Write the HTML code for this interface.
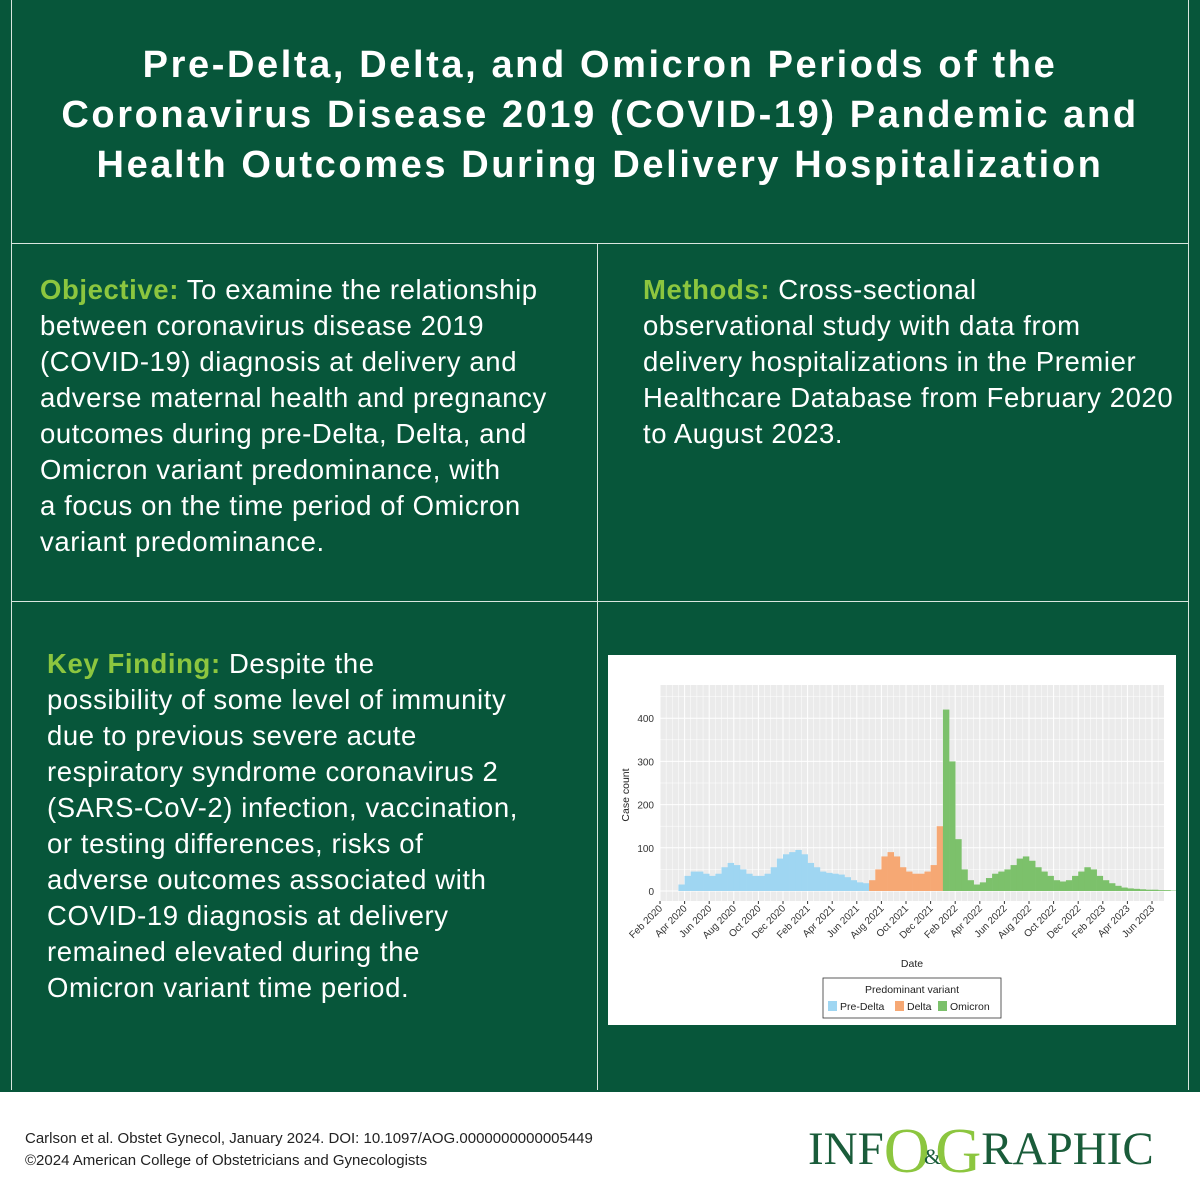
<!DOCTYPE html>
<html><head><meta charset="utf-8"><style>
body{margin:0;width:1200px;height:1177px;background:#fff;font-family:"Liberation Sans",sans-serif;position:relative;overflow:hidden}
#bg{position:absolute;left:0;top:0;width:1200px;height:1092px;background:#07563a}
.ln{position:absolute;background:#d9e6df}
.title{position:absolute;left:0;width:1200px;top:40px;text-align:center;color:#fff;font-weight:bold;font-size:38px;line-height:50px;letter-spacing:2.6px;white-space:nowrap}
.txt{position:absolute;color:#fff;font-size:27.5px;line-height:36px;white-space:nowrap;letter-spacing:0.6px}
.hd{color:#8cc63f;font-weight:bold}
.foot{position:absolute;left:25px;top:1128px;font-size:15px;line-height:22px;color:#222}
.logo{position:absolute;left:808px;top:1114px;font-family:"Liberation Serif",serif;font-size:47px;color:#1a5c3a;white-space:nowrap}
</style></head><body>
<div id="bg"></div>
<div class="ln" style="left:11px;top:0;width:1px;height:1090px"></div>
<div class="ln" style="left:1188px;top:0;width:1px;height:1090px"></div>
<div class="ln" style="left:11px;top:243px;width:1178px;height:1px"></div>
<div class="ln" style="left:11px;top:601px;width:1178px;height:1px"></div>
<div class="ln" style="left:597px;top:243px;width:1px;height:847px"></div>
<div class="title">Pre-Delta, Delta, and Omicron Periods of the<br>Coronavirus Disease 2019 (COVID-19) Pandemic and<br>Health Outcomes During Delivery Hospitalization</div>
<div class="txt" style="left:40px;top:272px"><span class="hd">Objective:</span> To examine the relationship<br>between coronavirus disease 2019<br>(COVID-19) diagnosis at delivery and<br>adverse maternal health and pregnancy<br>outcomes during pre-Delta, Delta, and<br>Omicron variant predominance, with<br>a focus on the time period of Omicron<br>variant predominance.</div>
<div class="txt" style="left:643px;top:272px"><span class="hd">Methods:</span> Cross-sectional<br>observational study with data from<br>delivery hospitalizations in the Premier<br>Healthcare Database from February 2020<br>to August 2023.</div>
<div class="txt" style="left:47px;top:646px"><span class="hd">Key Finding:</span> Despite the<br>possibility of some level of immunity<br>due to previous severe acute<br>respiratory syndrome coronavirus 2<br>(SARS-CoV-2) infection, vaccination,<br>or testing differences, risks of<br>adverse outcomes associated with<br>COVID-19 diagnosis at delivery<br>remained elevated during the<br>Omicron variant time period.</div>
<svg style="position:absolute;left:608px;top:655px" width="568" height="370">
<rect x="0" y="0" width="568" height="370" fill="#fff"/>
<g id="chart"></g>
</svg>
<div class="foot">Carlson et al. Obstet Gynecol, January 2024. DOI: 10.1097/AOG.0000000000005449<br>©2024 American College of Obstetricians and Gynecologists</div>
<div class="logo">INF<span style="color:#8cc63f;font-size:64px;vertical-align:-8px">O</span><span style="font-size:22px;margin:0 -6px">&amp;</span><span style="color:#8cc63f;font-size:64px;vertical-align:-8px">G</span>RAPHIC</div>
<script>
// half-month periods starting 2nd half of Mar 2020
const preDelta=[15,35,45,45,40,35,40,55,65,60,50,40,35,35,40,55,75,85,90,95,85,65,55,45,42,40,38,32,25,20,18];
const delta=[25,50,80,90,80,55,45,40,40,45,60,150];
const omicron=[420,300,120,50,25,15,20,30,40,45,50,60,75,80,70,55,45,35,25,22,25,35,45,55,50,35,25,18,12,8,6,5,4,3,3,2,2,1];
const yTicks=[0,100,200,300,400];
const xLabels=["Feb 2020","Apr 2020","Jun 2020","Aug 2020","Oct 2020","Dec 2020","Feb 2021","Apr 2021","Jun 2021","Aug 2021","Oct 2021","Dec 2021","Feb 2022","Apr 2022","Jun 2022","Aug 2022","Oct 2022","Dec 2022","Feb 2023","Apr 2023","Jun 2023"];
const colors={pre:"#9fd6f2",delta:"#f6a874",omi:"#7cc16b"};
const NS="http://www.w3.org/2000/svg";
const g=document.getElementById('chart');
const L=52,R=556,T=30,B=246;
const xm=m=>L+m*12.3; // months since Feb 2020
const y=v=>236-v*0.432;
function el(t,a){const e=document.createElementNS(NS,t);for(const k in a)e.setAttribute(k,a[k]);g.appendChild(e);return e;}
const panel=el('rect',{x:L,y:T,width:R-L,height:B-T,fill:'#ebebeb'});


for(let m=0;m<=41;m+=0.5){el('line',{x1:xm(m),x2:xm(m),y1:T,y2:B,stroke:'#fff','stroke-width':m%2==0?1:0.5});}
for(let v=-50;v<=450;v+=50){el('line',{x1:L,x2:R,y1:y(v),y2:y(v),stroke:'#fff','stroke-width':v%100==0?1:0.5});}
let idx=0;
function series(arr,col,name){arr.forEach(v=>{const m=1.5+idx*0.5;
const r=el('rect',{x:xm(m),y:y(v),width:12.3*0.5+0.3,height:y(0)-y(v),fill:col});


idx++;});}
series(preDelta,colors.pre,'pre-delta');
series(delta,colors.delta,'delta');
series(omicron,colors.omi,'omicron');
yTicks.forEach(v=>{const t=el('text',{x:L-6,y:y(v)+4,'text-anchor':'end','font-size':10,fill:'#333','font-family':'Liberation Sans'});t.textContent=v;

});
xLabels.forEach((s,i)=>{const x=xm(i*2);el('line',{x1:x,x2:x,y1:B,y2:B+3,stroke:'#333'});
const t=el('text',{x:x+3,y:B+8,'text-anchor':'end','font-size':10,fill:'#333','font-family':'Liberation Sans',transform:`rotate(-45 ${x+3} ${B+8})`});t.textContent=s;

});
const yt=el('text',{x:21,y:140,'text-anchor':'middle','font-size':10.5,fill:'#222','font-family':'Liberation Sans',transform:'rotate(-90 21 140)'});yt.textContent='Case count';


const xt=el('text',{x:304,y:312,'text-anchor':'middle','font-size':10.5,fill:'#222','font-family':'Liberation Sans'});xt.textContent='Date';


const lg=el('rect',{x:215,y:323,width:178,height:40,fill:'#fff',stroke:'#333','stroke-width':0.8});


const lt=el('text',{x:304,y:338,'text-anchor':'middle','font-size':10.5,fill:'#222','font-family':'Liberation Sans'});lt.textContent='Predominant variant';
[["Pre-Delta",colors.pre,220],["Delta",colors.delta,287],["Omicron",colors.omi,330]].forEach(([n,c,x])=>{
const s=el('rect',{x:x,y:346,width:9,height:10,fill:c});


const t=el('text',{x:x+12,y:355,'font-size':10.5,fill:'#222','font-family':'Liberation Sans'});t.textContent=n;

});
</script>
</body></html>
